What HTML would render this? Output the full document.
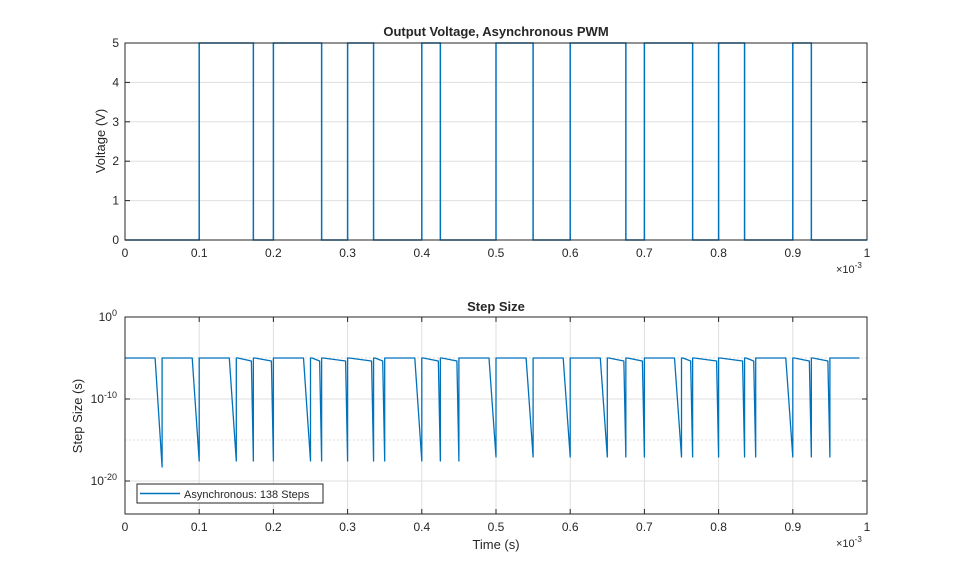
<!DOCTYPE html>
<html><head><meta charset="utf-8"><style>
html,body{margin:0;padding:0;background:#fff;}
svg text{font-family:"Liberation Sans",sans-serif;fill:#262626;}
</style></head><body>
<svg id="s" width="959" height="577" xmlns="http://www.w3.org/2000/svg">
<rect width="959" height="577" fill="#fff"/>
<g id="g"></g>
</svg>
<script>
const NS="http://www.w3.org/2000/svg";const g=document.getElementById('g');
function el(t,a,txt){const e=document.createElementNS(NS,t);for(const k in a)e.setAttribute(k,a[k]);if(txt!==undefined)e.innerHTML=txt;g.appendChild(e);return e;}
const L=125,R=867,W=R-L;
const X=t=>L+t/1*W;
// ---- top axes
const T1=43,B1=240;
for(let i=0;i<=10;i++){const x=X(i/10);el('line',{x1:x,x2:x,y1:T1,y2:B1,stroke:'#dfdfdf','stroke-width':1});}
for(let v=0;v<=5;v++){const y=B1-v*(B1-T1)/5;el('line',{x1:L,x2:R,y1:y,y2:y,stroke:'#dfdfdf','stroke-width':1});
el('text',{x:L-6,y:y+4,'font-size':12,'text-anchor':'end'},v);
el('line',{x1:L,x2:L+5,y1:y,y2:y,stroke:'#262626'});el('line',{x1:R,x2:R-5,y1:y,y2:y,stroke:'#262626'});}
for(let i=0;i<=10;i++){const x=X(i/10);el('text',{x:x,y:B1+17,'font-size':12,'text-anchor':'middle'},i==0?'0':i==10?'1':'0.'+i);
el('line',{x1:x,x2:x,y1:B1,y2:B1-5,stroke:'#262626'});el('line',{x1:x,x2:x,y1:T1,y2:T1+5,stroke:'#262626'});}
const hi=[[0.1,0.173],[0.2,0.265],[0.3,0.335],[0.4,0.425],[0.5,0.55],[0.6,0.675],[0.7,0.765],[0.8,0.835],[0.9,0.925]];
let d=`M${L},${B1}`;for(const[a,b]of hi){d+=`L${X(a)},${B1}L${X(a)},${T1}L${X(b)},${T1}L${X(b)},${B1}`;}d+=`L${R},${B1}`;
el('path',{d:d,fill:'none',stroke:'#0072bd','stroke-width':1.5});
el('rect',{x:L,y:T1,width:W,height:B1-T1,fill:'none',stroke:'#262626','stroke-width':1});
el('text',{x:496,y:36,'font-size':13,'font-weight':'bold','text-anchor':'middle'},'Output Voltage, Asynchronous PWM');
el('text',{x:0,y:0,'font-size':13,'text-anchor':'middle',transform:'translate(105,141) rotate(-90)'},'Voltage (V)');
el('text',{x:836,y:273,'font-size':11},'×10<tspan dy="-5" font-size="8">-3</tspan>');
// ---- bottom axes
const T2=317,B2=514,dec=8.2;
const Y=p=>T2-p*dec; // p = exponent (negative)
for(let i=0;i<=10;i++){const x=X(i/10);el('line',{x1:x,x2:x,y1:T2,y2:B2,stroke:'#dfdfdf','stroke-width':1});}
for(const p of [-5,-15]){const y=Y(p);el('line',{x1:L,x2:R,y1:y,y2:y,stroke:'#dfdfdf','stroke-width':1,'stroke-dasharray':'2,2'});}
for(const p of [-10,-20]){const y=Y(p);el('line',{x1:L,x2:R,y1:y,y2:y,stroke:'#dfdfdf','stroke-width':1});}
for(const p of [0,-10,-20]){const y=Y(p);el('text',{x:L-8,y:y+4,'font-size':12,'text-anchor':'end'},'10<tspan dy="-5" font-size="9">'+p+'</tspan>');
el('line',{x1:L,x2:L+5,y1:y,y2:y,stroke:'#262626'});el('line',{x1:R,x2:R-5,y1:y,y2:y,stroke:'#262626'});}
for(let i=0;i<=10;i++){const x=X(i/10);el('text',{x:x,y:B2+17,'font-size':12,'text-anchor':'middle'},i==0?'0':i==10?'1':'0.'+i);
el('line',{x1:x,x2:x,y1:B2,y2:B2-5,stroke:'#262626'});el('line',{x1:x,x2:x,y1:T2,y2:T2+5,stroke:'#262626'});}
let ev=[];for(let k=1;k<=19;k++)ev.push(k*0.05);for(const[a,b]of hi){ev.push(b);}
ev=[...new Set(ev.map(v=>Math.round(v*1000)/1000))].sort((a,b)=>a-b);
const base=358;let prev=0;let p=`M${L},${base}`;
for(const e of ev){const xe=X(e),xp=X(prev);const depth=e<0.06?467:(e<0.5?461:457);
if(prev>0)p+=`L${xp+1.5},${base}`;
if(xe-xp<30&&prev>0){p+=`L${xe-2},${base+3}`;}else{p+=`L${xe-7},${base}`;}
p+=`L${xe},${depth}L${xe},${base}`;prev=e;}
p+=`L${X(0.99)},${base}`;
el('path',{d:p,fill:'none',stroke:'#0072bd','stroke-width':1.3,'stroke-linejoin':'round'});
el('rect',{x:L,y:T2,width:W,height:B2-T2,fill:'none',stroke:'#262626','stroke-width':1});
el('rect',{x:137,y:484,width:186,height:19,fill:'#fff',stroke:'#262626','stroke-width':1});
el('line',{x1:140,x2:180,y1:493.5,y2:493.5,stroke:'#0072bd','stroke-width':1.5});
el('text',{x:184,y:498,'font-size':11},'Asynchronous: 138 Steps');
el('text',{x:496,y:311,'font-size':13,'font-weight':'bold','text-anchor':'middle'},'Step Size');
el('text',{x:0,y:0,'font-size':13,'text-anchor':'middle',transform:'translate(82,416) rotate(-90)'},'Step Size (s)');
el('text',{x:496,y:549,'font-size':13,'text-anchor':'middle'},'Time (s)');
el('text',{x:836,y:547,'font-size':11},'×10<tspan dy="-5" font-size="8">-3</tspan>');
</script>
</body></html>
